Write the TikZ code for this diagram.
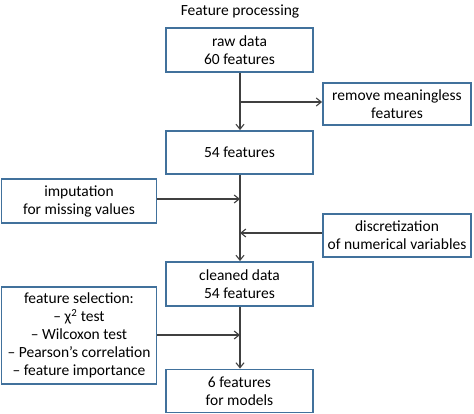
\documentclass[tikz,border=0pt]{standalone}
\usepackage{fontspec}
\setmainfont{Carlito}
\usetikzlibrary{arrows.meta}
\definecolor{boxblue}{HTML}{41719C}
\definecolor{linegray}{HTML}{404040}
\begin{document}
\begin{tikzpicture}[x=1pt,y=-1pt,
  box/.style={draw=boxblue,line width=1.8pt,fill=white,inner sep=0pt,align=center,
    font=\fontsize{15.5}{18}\selectfont},
  conn/.style={draw=linegray,line width=1.1pt,-{Straight Barb[length=5pt,width=8pt]}}]
\useasboundingbox (0,0) rectangle (474,414);
\node[font=\fontsize{15.5}{18}\selectfont] (title) at (240,12) {Feature processing};
\node[box,minimum width=147pt,minimum height=44pt] (raw) at (239.5,50) {raw data\\60 features};
\node[box,minimum width=148pt,minimum height=42pt] (rem) at (397,104) {remove meaningless\\features};
\node[box,minimum width=147pt,minimum height=43pt] (f54) at (239.5,152.5) {54 features};
\node[box,minimum width=155pt,minimum height=44pt] (imp) at (79,201) {imputation\\for missing values};
\node[box,minimum width=148pt,minimum height=43pt] (disc) at (397,235.5) {discretization\\of numerical variables};
\node[box,minimum width=147pt,minimum height=44pt] (clean) at (239.5,284) {cleaned data\\54 features};
\node[box,minimum width=155pt,minimum height=97pt] (sel) at (79,335.5) {feature selection:\\– χ\textsuperscript{2} test\\– Wilcoxon test\\– Pearson’s correlation\\– feature importance};
\node[box,minimum width=147pt,minimum height=43pt] (six) at (239.5,391) {6 features\\for models};
\coordinate (b1) at (240,102);
\coordinate (b2) at (240,199);
\coordinate (b3) at (240,233);
\coordinate (b4) at (240,335);
\draw[conn] (raw.south -| b1) -- (f54.north -| b1);
\draw[conn] (b1) -- (rem.west |- b1);
\draw[conn] (f54.south -| b2) -- (clean.north -| b2);
\draw[conn] (imp.east |- b2) -- (b2);
\draw[conn] (disc.west |- b3) -- (b3);
\draw[conn] (clean.south -| b4) -- (six.north -| b4);
\draw[conn] (sel.east |- b4) -- (b4);
\end{tikzpicture}
\end{document}
